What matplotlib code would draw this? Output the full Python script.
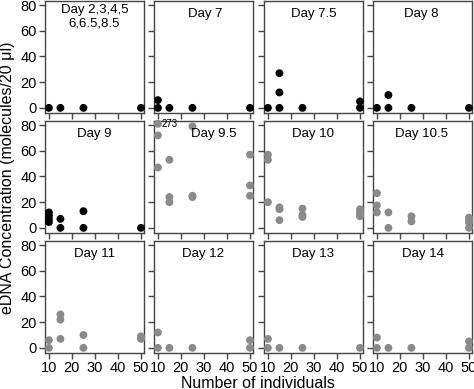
import matplotlib
matplotlib.use("Agg")
import matplotlib.pyplot as plt

plt.rcParams['font.family'] = ['Liberation Sans', 'DejaVu Sans']

titles = ["Day 2,3,4,5\n6,6.5,8.5", "Day 7", "Day 7.5", "Day 8",
          "Day 9", "Day 9.5", "Day 10", "Day 10.5",
          "Day 11", "Day 12", "Day 13", "Day 14"]

x_vals = [
    [10, 15, 25, 50],
    [10, 10, 15, 25, 50],
    [10, 15, 15, 15, 25, 50, 50],
    [10, 15, 15, 25, 50],
    [10, 10, 10, 10, 15, 15, 25, 25, 50],
    [10, 10, 10, 15, 15, 15, 25, 25, 25, 50, 50, 50],
    [10, 10, 10, 15, 15, 15, 25, 25, 25, 50, 50, 50, 50],
    [10, 10, 10, 15, 15, 25, 25, 50, 50, 50, 50],
    [10, 10, 15, 15, 15, 25, 25, 50, 50, 50],
    [10, 10, 15, 25, 50, 50],
    [10, 10, 15, 25, 50],
    [10, 10, 15, 25, 50, 50],
]
y_vals = [
    [0, 0, 0, 0],
    [0, 6, 0, 0, 0],
    [0, 0, 12, 27, 0, 0, 5],
    [0, 0, 10, 0, 0],
    [12, 9.5, 7, 4.5, 7, 0, 13, 0, 0],
    [81, 72, 47, 53, 24, 20, 79, 25, 24, 57, 33, 25],
    [57, 53, 20, 16, 14.5, 6, 15, 10, 8.5, 14.5, 12, 10.5, 9],
    [27, 17.5, 12, 12, 0, 9, 5, 8, 6, 4, 0],
    [6, 0, 26, 22, 7, 10, 0, 9, 8, 7],
    [12, 0, 0, 0, 6, 0],
    [7, 0, 0, 0, 0],
    [8, 0, 0, 0, 5, 0],
]
colors = ["black"] * 5 + ["#8a8a8a"] * 7
title_x = [0.5, 0.52, 0.5, 0.49, 0.5, 0.6, 0.5, 0.49, 0.5, 0.5, 0.5, 0.5]

W, H = 474, 389
fig = plt.figure(figsize=(W / 100, H / 100), dpi=100)

col_left = [45, 154, 264, 373]
row_top = [1, 121, 241]
aw, ah = 99, 112
frame_col = "#444444"

for i in range(12):
    r, c = divmod(i, 4)
    ax = fig.add_axes([col_left[c] / W, 1 - (row_top[r] + ah) / H, aw / W, ah / H])
    ax.scatter(x_vals[i], y_vals[i], s=32, color=colors[i], edgecolors='none',
               zorder=3, clip_on=False)
    ax.set_xlim(8.3, 51.3)
    ax.set_ylim(-4, 83.2)
    ax.set_xticks([10, 20, 30, 40, 50])
    ax.set_yticks([0, 20, 40, 60, 80])
    for sp in ax.spines.values():
        sp.set_color(frame_col)
        sp.set_linewidth(1.0)
    ax.tick_params(direction='out', length=4, width=1, color=frame_col,
                   labelsize=10.5, pad=2)
    if c != 0:
        ax.set_yticklabels([])
    if r != 2:
        ax.set_xticklabels([])
    yt = 0.86 if "\n" in titles[i] else 0.885
    ax.text(title_x[i], yt, titles[i], transform=ax.transAxes, ha='center',
            va='center', fontsize=9.5, linespacing=1.15)
    if i == 5:
        ax.text(11.4, 81, "273", fontsize=7, va='center', ha='left')

fig.text(8 / W, 1 - 178 / H, "eDNA Concentration (molecules/20 μl)",
         rotation=90, ha='center', va='center', fontsize=11.5)
fig.text(258 / W, 1 - 383 / H, "Number of individuals", ha='center',
         va='center', fontsize=11.5)

fig.savefig("out.png", dpi=100)
